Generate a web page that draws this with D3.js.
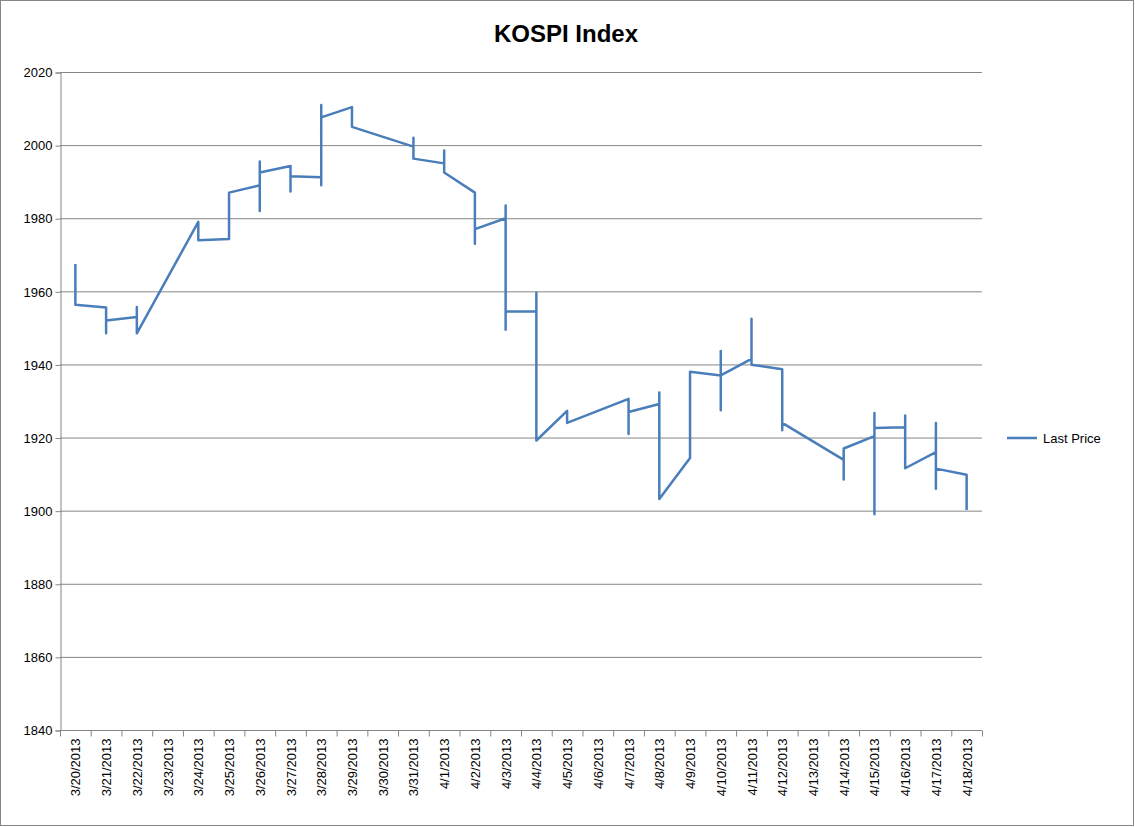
<!DOCTYPE html>
<html>
<head>
<meta charset="utf-8">
<script src="https://cdn.jsdelivr.net/npm/d3@7"></script>
<style>
body{margin:0;background:#fff;font-family:"Liberation Sans",Arial,sans-serif;}
</style>
</head>
<body>
<div id="chart"></div>
<script>
// categories on the x axis
const dates = ['3/20/2013','3/21/2013','3/22/2013','3/23/2013','3/24/2013','3/25/2013','3/26/2013','3/27/2013','3/28/2013','3/29/2013',
  '3/30/2013','3/31/2013','4/1/2013','4/2/2013','4/3/2013','4/4/2013','4/5/2013','4/6/2013','4/7/2013','4/8/2013',
  '4/9/2013','4/10/2013','4/11/2013','4/12/2013','4/13/2013','4/14/2013','4/15/2013','4/16/2013','4/17/2013','4/18/2013'];
// prices in drawing order, several per day (empty = no trading)
const prices = [
  [1967.5,1956.3],
  [1955.6,1948.5,1952],
  [1953,1955.7,1948.5],
  [],
  [1979,1974],
  [1974.3,1987],
  [1989,1995.5,1982,1992.5],
  [1994.3,1987.3,1991.5],
  [1991.2,1989,2011,2007.6],
  [2010.4,2005],
  [],
  [1999.6,2002,1996.3],
  [1995,1998.5,1992.5],
  [1987,1973,1977],
  [1980,1983.5,1949.5,1954.5],
  [1954.5,1959.6,1919.2],
  [1927.3,1924],
  [],
  [1930.6,1921,1927],
  [1929.2,1932.3,1903.2],
  [1914.4,1938],
  [1937,1943.7,1927.5,1937],
  [1941.5,1952.5,1939.9],
  [1938.7,1922,1924],
  [],
  [1913.9,1908.5,1917],
  [1920.4,1926.7,1899,1922.6],
  [1922.8,1926,1911.6],
  [1916,1924,1906,1911.5],
  [1909.8,1900.2]
];
const yTicks = [1840,1860,1880,1900,1920,1940,1960,1980,2000,2020];
const seriesName = 'Last Price';

const width = 1135, height = 827;
const mLeft = 60, mRight = 982, mTop = 72, mBottom = 730;

const svg = d3.select('#chart').append('svg')
  .attr('width', width).attr('height', height);

svg.append('rect')
  .attr('x', 0.5).attr('y', 0.5)
  .attr('width', width - 2).attr('height', height - 2)
  .attr('fill', '#fff').attr('stroke', '#868686');

const x = d3.scaleBand().domain(dates).range([mLeft, mRight]);
const y = d3.scaleLinear().domain([1840, 2020]).range([mBottom, mTop]);

// gridlines
svg.append('g').selectAll('line').data(yTicks).enter().append('line')
  .attr('x1', mLeft).attr('x2', mRight)
  .attr('y1', d => y(d) + 0.5).attr('y2', d => y(d) + 0.5)
  .attr('stroke', '#868686');

// y axis
const yAxis = svg.append('g')
  .attr('transform', `translate(${mLeft + 0.5},0.5)`)
  .call(d3.axisLeft(y).tickValues(yTicks).tickSize(5).tickFormat(d3.format('d')));
yAxis.select('.domain').attr('stroke', '#868686');
yAxis.selectAll('line').attr('stroke', '#868686');
yAxis.selectAll('text').attr('font-size', 13).attr('fill', '#000')
  .attr('font-family', 'Liberation Sans, Arial, sans-serif');

// x axis: ticks at category boundaries
const xg = svg.append('g').attr('transform', `translate(0,${mBottom + 0.5})`);
xg.append('line').attr('x1', mLeft).attr('x2', mRight).attr('stroke', '#868686');
xg.selectAll('.tk').data(d3.range(dates.length + 1)).enter().append('line')
  .attr('x1', i => mLeft + i * x.step() + 0.5).attr('x2', i => mLeft + i * x.step() + 0.5)
  .attr('y1', 0).attr('y2', 6).attr('stroke', '#868686');
xg.selectAll('text').data(dates).enter().append('text')
  .attr('transform', d => `translate(${x(d) + x.bandwidth() / 2 + 5},8) rotate(-90)`)
  .attr('text-anchor', 'end')
  .attr('font-size', 13)
  .text(d => d);

// line
const pts = [];
dates.forEach((d, i) => prices[i].forEach(v => pts.push([x(d) + x.bandwidth() / 2, y(v)])));
svg.append('path')
  .attr('d', d3.line()(pts))
  .attr('fill', 'none')
  .attr('stroke', '#4a7ebb')
  .attr('stroke-width', 2.5)
  .attr('stroke-linejoin', 'round');

// title
svg.append('text')
  .attr('x', 566).attr('y', 42)
  .attr('text-anchor', 'middle')
  .attr('font-size', 24).attr('font-weight', 'bold')
  .text('KOSPI Index');

// legend
svg.append('line')
  .attr('x1', 1007).attr('x2', 1037).attr('y1', 438).attr('y2', 438)
  .attr('stroke', '#4a7ebb').attr('stroke-width', 2.5);
svg.append('text')
  .attr('x', 1043).attr('y', 443)
  .attr('font-size', 13)
  .text(seriesName);
</script>
</body>
</html>
